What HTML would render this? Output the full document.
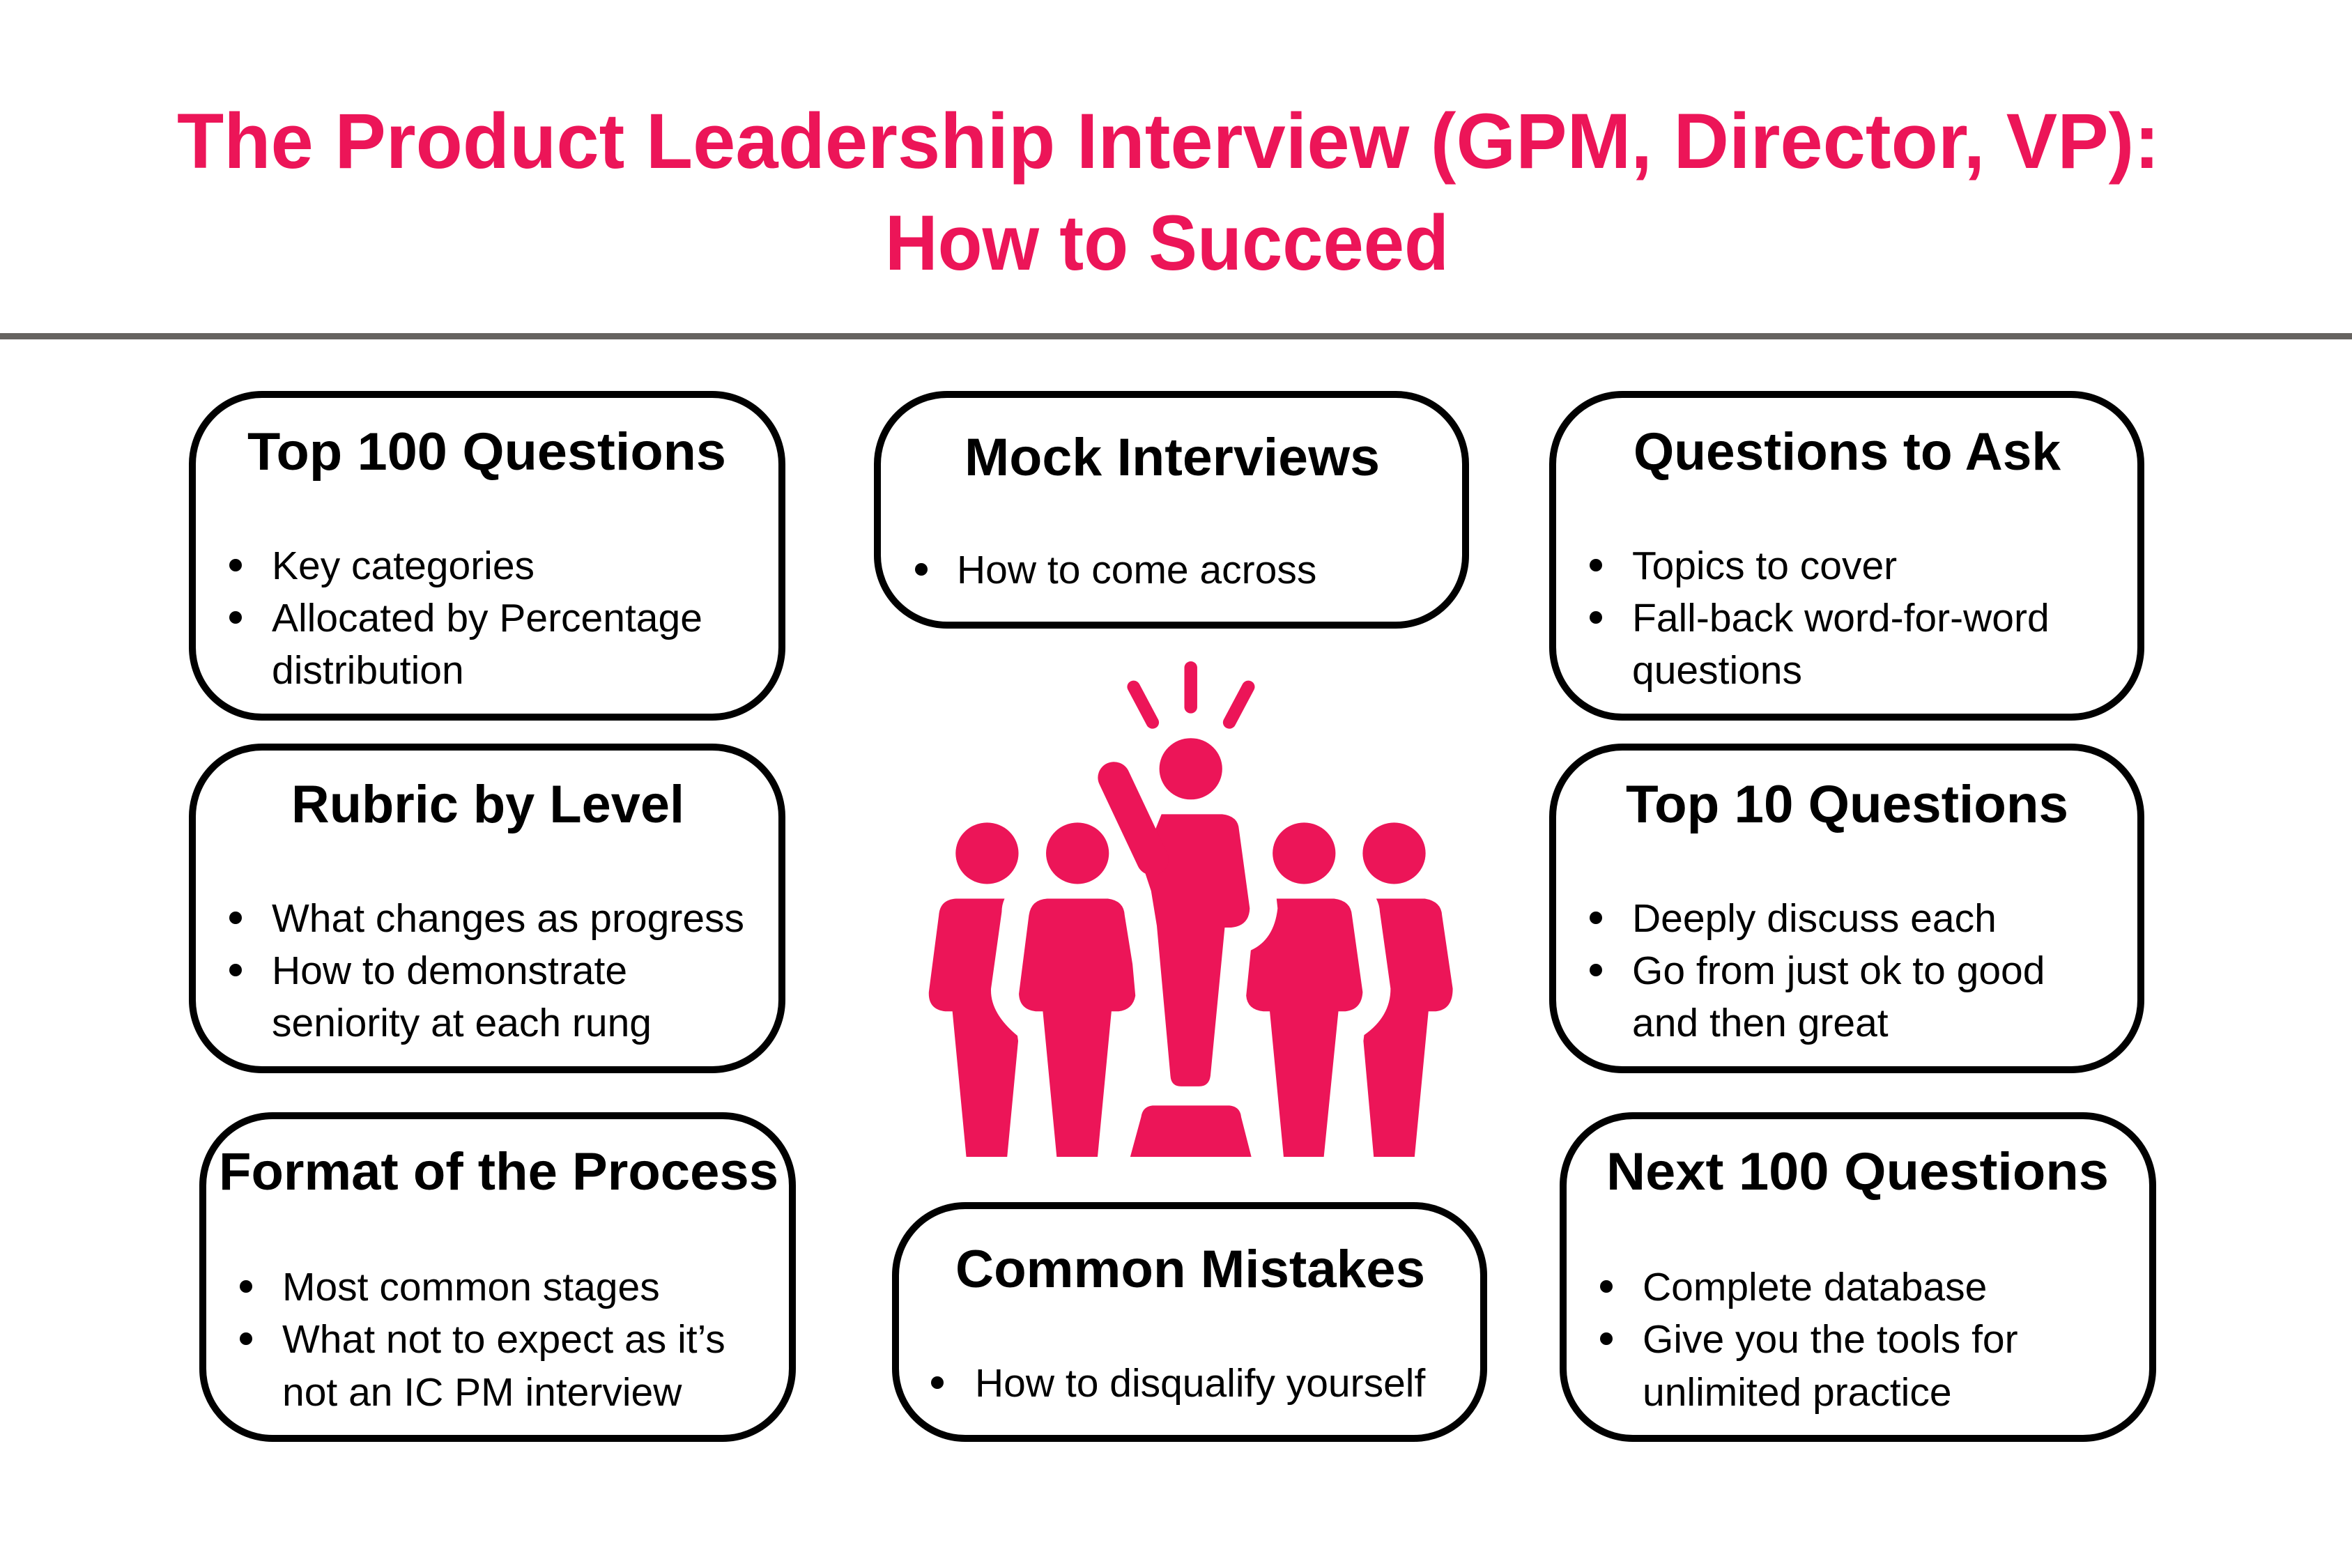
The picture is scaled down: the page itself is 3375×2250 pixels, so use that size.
<!DOCTYPE html>
<html><head><meta charset="utf-8"><style>
html,body{margin:0;padding:0;background:#fff;}
svg{display:block;}
</style></head><body>
<svg width="3375" height="2250" viewBox="0 0 3375 2250" xmlns="http://www.w3.org/2000/svg" font-family="Liberation Sans, sans-serif">
<rect width="3375" height="2250" fill="#fff"/>
<g fill="#EC1558" font-weight="bold" font-size="112">
<text x="254" y="241" textLength="2845" lengthAdjust="spacingAndGlyphs">The Product Leadership Interview (GPM, Director, VP):</text>
<text x="1270" y="387" textLength="809" lengthAdjust="spacingAndGlyphs">How to Succeed</text>
</g>
<rect x="0" y="478" width="3375" height="9" fill="#666360"/>
<g fill="none" stroke="#000" stroke-width="10">
<rect x="276" y="566" width="846" height="463" rx="100"/>
<rect x="1259" y="566" width="844" height="331" rx="100"/>
<rect x="2228" y="566" width="844" height="463" rx="100"/>
<rect x="276" y="1072" width="846" height="463" rx="100"/>
<rect x="2228" y="1072" width="844" height="463" rx="100"/>
<rect x="291" y="1601" width="846" height="463" rx="100"/>
<rect x="1285" y="1730" width="844" height="334" rx="100"/>
<rect x="2243" y="1601" width="846" height="463" rx="100"/>
</g>
<g fill="#000" font-weight="bold" font-size="76">
<text x="355" y="674" textLength="687" lengthAdjust="spacingAndGlyphs">Top 100 Questions</text>
<text x="1384" y="682" textLength="596" lengthAdjust="spacingAndGlyphs">Mock Interviews</text>
<text x="2344" y="674" textLength="613" lengthAdjust="spacingAndGlyphs">Questions to Ask</text>
<text x="418" y="1180" textLength="564" lengthAdjust="spacingAndGlyphs">Rubric by Level</text>
<text x="2333" y="1180" textLength="635" lengthAdjust="spacingAndGlyphs">Top 10 Questions</text>
<text x="314" y="1707" textLength="803" lengthAdjust="spacingAndGlyphs">Format of the Process</text>
<text x="1371" y="1847" textLength="674" lengthAdjust="spacingAndGlyphs">Common Mistakes</text>
<text x="2305" y="1707" textLength="721" lengthAdjust="spacingAndGlyphs">Next 100 Questions</text>
</g>
<g fill="#000" font-size="57">
<circle cx="338" cy="811" r="9"/><circle cx="338" cy="886" r="9"/>
<text x="390" y="831">Key categories</text>
<text x="390" y="906">Allocated by Percentage</text>
<text x="390" y="981">distribution</text>

<circle cx="1322" cy="817" r="9"/>
<text x="1373" y="837">How to come across</text>

<circle cx="2290" cy="811" r="9"/><circle cx="2290" cy="886" r="9"/>
<text x="2342" y="831">Topics to cover</text>
<text x="2342" y="906">Fall-back word-for-word</text>
<text x="2342" y="981">questions</text>

<circle cx="338" cy="1317" r="9"/><circle cx="338" cy="1392" r="9"/>
<text x="390" y="1337">What changes as progress</text>
<text x="390" y="1412">How to demonstrate</text>
<text x="390" y="1487">seniority at each rung</text>

<circle cx="2290" cy="1317" r="9"/><circle cx="2290" cy="1392" r="9"/>
<text x="2342" y="1337">Deeply discuss each</text>
<text x="2342" y="1412">Go from just ok to good</text>
<text x="2342" y="1487">and then great</text>

<circle cx="353" cy="1846" r="9"/><circle cx="353" cy="1921" r="9"/>
<text x="405" y="1866">Most common stages</text>
<text x="405" y="1941">What not to expect as it’s</text>
<text x="405" y="2017">not an IC PM interview</text>

<circle cx="1345" cy="1984" r="9"/>
<text x="1399" y="2004">How to disqualify yourself</text>

<circle cx="2305" cy="1846" r="9"/><circle cx="2305" cy="1921" r="9"/>
<text x="2357" y="1866">Complete database</text>
<text x="2357" y="1941">Give you the tools for</text>
<text x="2357" y="2017">unlimited practice</text>
</g>
<svg x="1300" y="918" width="800" height="742" viewBox="0 0 1560 1482" preserveAspectRatio="none">
<g fill="#EC1558">
<g stroke="#EC1558" stroke-width="36" stroke-linecap="round">
<line x1="797" y1="80" x2="797" y2="193"/>
<line x1="637" y1="135" x2="690" y2="237"/>
<line x1="958" y1="135" x2="905" y2="237"/>
</g>
<circle cx="797" cy="370" r="88"/>
<circle cx="227" cy="612" r="88"/>
<circle cx="480" cy="612" r="88"/>
<circle cx="1114" cy="612" r="88"/>
<circle cx="1366" cy="612" r="88"/>
<line x1="582" y1="395" x2="690" y2="630" stroke="#fff" stroke-width="135" stroke-linecap="round"/>
<path d="M140 742 L276 742 Q268 760 268 780 L238 1000 Q235 1070 312 1135 L314 1150 L282 1495 Q278 1520 250 1520 L200 1520 Q172 1518 170 1495 L130 1065 L110 1065 Q62 1060 64 1010 L92 790 Q95 745 140 742Z"/>
<path d="M395 742 L565 742 Q610 748 612 790 L634 930 L642 1020 Q635 1060 595 1065 L575 1065 L535 1495 Q530 1520 505 1520 L455 1520 Q425 1518 423 1495 L383 1065 L363 1065 Q318 1060 316 1015 L344 790 Q350 745 395 742Z"/>
<path d="M1037 742 L1198 742 Q1245 748 1248 790 L1278 1010 Q1275 1060 1230 1065 L1210 1065 L1168 1495 Q1165 1520 1140 1520 L1090 1520 Q1060 1518 1058 1495 L1018 1065 L1000 1065 Q955 1060 952 1020 L965 890 Q1030 860 1040 770 Z"/>
<path d="M1316 742 L1452 742 Q1498 750 1500 790 L1530 1000 Q1530 1060 1483 1065 L1462 1065 L1422 1495 Q1418 1520 1392 1520 L1342 1520 Q1312 1518 1310 1495 L1280 1150 L1282 1133 Q1356 1080 1356 1000 L1326 780 Q1325 760 1316 742Z"/>
<path d="M715 500 L885 500 Q930 505 932 545 L962 770 Q960 820 910 825 L892 825 L852 1250 Q848 1280 820 1280 L770 1280 Q742 1280 740 1250 L702 820 L686 720 L660 640 Z"/>
<line x1="582" y1="395" x2="690" y2="630" stroke="#EC1558" stroke-width="90" stroke-linecap="round"/>
<path d="M690 1335 L905 1335 Q935 1338 938 1368 L968 1488 Q965 1520 935 1520 L655 1520 Q625 1518 626 1488 L658 1368 Q662 1338 690 1335Z"/>
</g>
</svg>
</svg>
</body></html>
